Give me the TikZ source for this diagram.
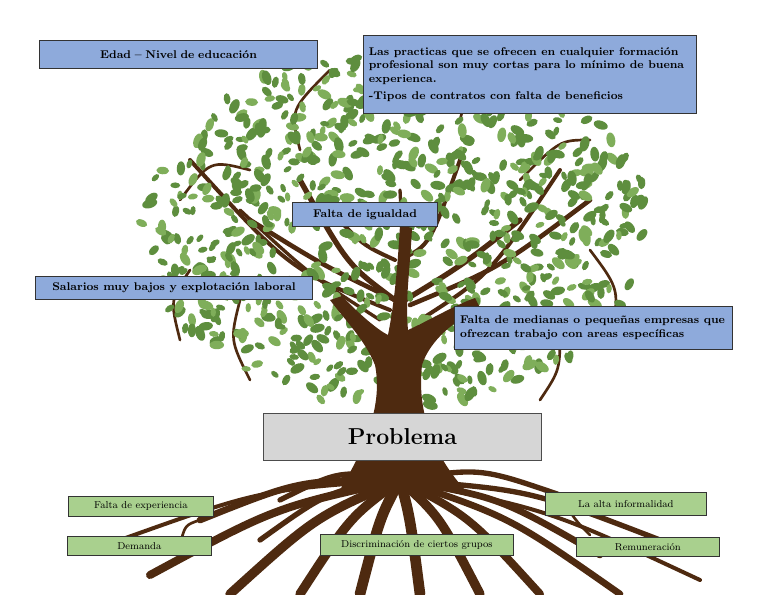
\documentclass[tikz,border=0pt]{standalone}
\usetikzlibrary{calc}
\hyphenpenalty=10000
\exhyphenpenalty=10000
\definecolor{bark}{HTML}{4E2A10}
\definecolor{leafa}{HTML}{5E8E3E}
\definecolor{leafb}{HTML}{7FAE5A}
\definecolor{bluebox}{HTML}{8EAADB}
\definecolor{greenbox}{HTML}{A9D08E}
\definecolor{graybox}{HTML}{D6D6D6}
\tikzset{
 bluebx/.style={draw=black!80, line width=0.8pt, fill=bluebox, inner sep=3pt, font=\fontsize{8.4}{10}\selectfont\bfseries, align=flush left},
 greenbx/.style={draw=black!80, line width=0.6pt, fill=greenbox, font=\fontsize{7.5}{9}\selectfont, align=center},
 branch/.style={draw=bark, line cap=round},
 rootl/.style={draw=bark, line cap=round}
}
\begin{document}
\begin{tikzpicture}[x=0.75pt,y=-0.75pt]
\useasboundingbox (0,0) rectangle (768,594);
\fill[white] (0,0) rectangle (768,594);
% thin branches
\foreach \a/\b/\c/\w in {395/300/300/4, 395/300/250/3.5, 390/310/190/3, 405/300/520/4, 410/305/590/3.5, 400/260/460/3, 395/260/330/3, 420/320/560/3, 380/320/240/2.5, 405/250/400/2.5}{
 \path[branch, line width=\w] (\a,\b) .. controls ($(\a,\b)!0.5!(\c,150)+(0,40)$) .. (\c,{150+mod(\c,90)});
}
\draw[branch,line width=2] (300,150) .. controls (290,110) .. (330,70);
\draw[branch,line width=2] (250,170) .. controls (210,160) .. (180,200);
\draw[branch,line width=2] (520,180) .. controls (560,140) .. (590,140);
\draw[branch,line width=2] (460,120) .. controls (470,80) .. (500,60);
\draw[branch,line width=2] (190,270) .. controls (170,300) .. (180,340);
\draw[branch,line width=2] (590,250) .. controls (620,290) .. (610,340);
\draw[branch,line width=2] (560,330) .. controls (560,370) .. (540,400);
\draw[branch,line width=2] (240,300) .. controls (230,340) .. (250,380);
% leaves
\pgfmathsetseed{7}
\foreach \i in {1,...,900}{
 \pgfmathsetmacro\r{sqrt(rnd)}
 \pgfmathsetmacro\t{360*rnd}
 \pgfmathsetmacro\x{395+255*\r*cos(\t)}
 \pgfmathsetmacro\y{228+180*\r*sin(\t)}
 \pgfmathsetmacro\ang{360*rnd}
 \pgfmathsetmacro\sz{2.6+2*rnd}
 \pgfmathtruncatemacro\k{mod(\i,3)}
 \ifnum\k=0 \def\lc{leafb}\else\def\lc{leafa}\fi
 \fill[\lc, shift={(\x,\y)}, rotate=\ang] (0,0) ellipse ({\sz*1.7} and \sz);
}
% trunk
\fill[bark] (340,490) .. controls (370,440) and (382,400) .. (375,365)
 .. controls (365,340) and (345,320) .. (330,300) -- (342,296)
 .. controls (360,315) and (378,330) .. (388,335)
 .. controls (395,300) and (398,260) .. (400,225) -- (412,228)
 .. controls (410,270) and (405,300) .. (408,330)
 .. controls (430,320) and (455,305) .. (475,298) -- (480,308)
 .. controls (455,320) and (430,340) .. (422,365)
 .. controls (418,400) and (425,445) .. (465,490) -- cycle;
% roots
\foreach \ex/\ey/\w in {200/520/5, 150/575/6, 230/594/7, 300/594/7, 360/594/8, 420/594/8, 480/594/7, 540/594/6, 620/594/5, 600/555/5, 560/495/4, 660/540/4, 280/500/4, 260/540/4, 700/580/3, 120/540/3}{
 \draw[rootl, line width=\w] (400,480) .. controls ($(400,480)!0.5!(\ex,\ey)+(0,-20)$) .. (\ex,\ey);
}
\draw[rootl, line width=2] (200,520) .. controls (185,525) .. (180,545);
\draw[rootl, line width=2] (560,495) .. controls (575,520) .. (590,535);
% boxes
\node[bluebx, minimum width=208.5pt, minimum height=21pt, anchor=north west, text width=200pt, align=center] (edad) at (39,40) {Edad -- Nivel de educación\\[6pt]};
\node[bluebx, minimum width=250pt, minimum height=58.5pt, anchor=north west, text width=242pt] (prac) at (363,35) {Las practicas que se ofrecen en cualquier formación profesional son muy cortas para lo mínimo de buena experienca.\\[3pt]-Tipos de contratos con falta de beneficios};
\node[bluebx, minimum width=108.75pt, minimum height=18pt, anchor=north west, align=center] (igual) at (292,202) {Falta de igualdad};
\node[bluebx, minimum width=207.75pt, minimum height=17.25pt, anchor=north west, align=center] (sal) at (35,276) {Salarios muy bajos y explotación laboral};
\node[bluebx, minimum width=208.5pt, minimum height=32pt, anchor=north west, text width=200pt] (med) at (454,306) {Falta de medianas o pequeñas empresas que ofrezcan trabajo con areas específicas};
\node[draw=black!70, line width=0.6pt, fill=graybox, minimum width=208.5pt, minimum height=35pt, anchor=north west, font=\LARGE\bfseries] (prob) at (263,413) {Problema};
\node[greenbx, minimum width=108.75pt, minimum height=15pt, anchor=north west] (exp) at (68,496) {Falta de experiencia};
\node[greenbx, minimum width=108pt, minimum height=14.25pt, anchor=north west] (dem) at (67,536) {Demanda};
\node[greenbx, minimum width=144.75pt, minimum height=15.75pt, anchor=north west] (disc) at (320,534) {Discriminación de ciertos grupos};
\node[greenbx, minimum width=120.75pt, minimum height=17.25pt, anchor=north west] (inf) at (545,492) {La alta informalidad};
\node[greenbx, minimum width=107.25pt, minimum height=14.25pt, anchor=north west] (rem) at (576,537) {Remuneración};
\end{tikzpicture}
\end{document}
